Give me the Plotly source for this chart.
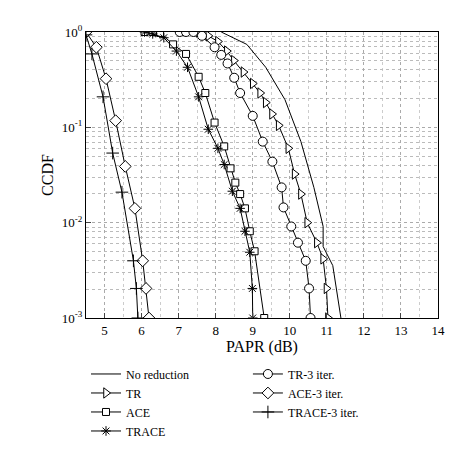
import plotly.graph_objects as go

nr_x = [8.15, 8.84, 9.35, 9.87, 10.3, 10.65, 10.9, 10.9, 11.16, 11.38]
nr_y = [0, -0.13, -0.37, -0.71, -1.15, -1.63, -2.04, -2.25, -2.45, -3]
tr_x = [7.54, 7.8, 8.06, 8.3, 8.49, 8.75, 9.0, 9.2, 9.35, 9.52, 9.7, 9.96, 10.13, 10.3, 10.47, 10.73, 10.9, 10.99, 11.03]
tr_y = [0, -0.04, -0.1, -0.2, -0.3, -0.42, -0.54, -0.64, -0.74, -0.86, -0.98, -1.22, -1.49, -1.7, -2.0, -2.21, -2.38, -2.69, -3]
tr3_x = [7.03, 7.2, 7.4, 7.63, 7.97, 8.15, 8.32, 8.5, 8.66, 9.0, 9.27, 9.53, 9.78, 9.83, 10.04, 10.22, 10.43, 10.52, 10.56]
tr3_y = [0, 0, 0, -0.04, -0.16, -0.24, -0.33, -0.48, -0.64, -0.88, -1.15, -1.36, -1.63, -1.84, -2.04, -2.21, -2.4, -2.69, -3]
ace_x = [6.08, 6.3, 6.5, 6.85, 7.2, 7.54, 7.72, 7.97, 8.23, 8.4, 8.53, 8.66, 8.79, 8.92, 9.05, 9.31]
ace_y = [0, 0, -0.01, -0.13, -0.23, -0.47, -0.64, -0.95, -1.2, -1.43, -1.58, -1.7, -1.85, -2.09, -2.3, -3]
trace_x = [6.08, 6.3, 6.6, 6.94, 7.24, 7.54, 7.8, 8.06, 8.23, 8.45, 8.66, 8.79, 8.92, 8.99, 9.0]
trace_y = [0, -0.02, -0.06, -0.2, -0.37, -0.68, -1.02, -1.22, -1.39, -1.67, -1.85, -2.09, -2.31, -2.69, -3]
ace3_x = [4.5, 4.78, 5.04, 5.3, 5.56, 5.82, 6.03, 6.12, 6.2]
ace3_y = [0, -0.16, -0.49, -0.93, -1.41, -1.85, -2.4, -2.69, -3]
trace3_x = [4.5, 4.66, 4.96, 5.22, 5.47, 5.78, 5.86, 5.9]
trace3_y = [-0.03, -0.23, -0.68, -1.27, -1.68, -2.4, -2.69, -3]

def p(v):
    return [10 ** a for a in v]

fig = go.Figure()
def add(name, x, y, sym, leg, size=9):
    mode = 'lines' if sym is None else 'lines+markers'
    fig.add_trace(go.Scatter(x=x, y=p(y), name=name, mode=mode, legend=leg,
        line=dict(color='black', width=1),
        marker=dict(symbol=sym or 'circle', size=size, color='white',
                    line=dict(color='black', width=1))))

add('No reduction', nr_x, nr_y, None, 'legend')
add('TR', tr_x, tr_y, 'triangle-right', 'legend')
add('ACE', ace_x, ace_y, 'square', 'legend', 7)
add('TRACE', trace_x, trace_y, 'asterisk', 'legend', 8)
add('TR-3 iter.', tr3_x, tr3_y, 'circle', 'legend2')
add('ACE-3 iter.', ace3_x, ace3_y, 'diamond', 'legend2')
add('TRACE-3 iter.', trace3_x, trace3_y, 'cross-thin', 'legend2')

minor_vals = [m * 10 ** e for e in (-3, -2, -1) for m in range(2, 10)]
legstyle = dict(orientation='v', yanchor='top', xanchor='left', tracegroupgap=0,
                font=dict(size=12), bgcolor='rgba(0,0,0,0)', itemwidth=30)
fig.update_layout(
    width=474, height=468, plot_bgcolor='white', paper_bgcolor='white',
    margin=dict(l=78, r=44, t=24, b=158),
    font=dict(family='Liberation Serif', size=13, color='black'),
    showlegend=True,
    legend=dict(x=0.0, y=-0.145, **legstyle),
    legend2=dict(x=0.46, y=-0.145, **legstyle),
    xaxis=dict(range=[4.5, 14], dtick=1, tick0=4, showline=True, mirror=True,
               linecolor='black', ticks='inside', gridcolor='#aaa', griddash='dot',
               minor=dict(dtick=0.5, showgrid=True, gridcolor='#ccc', griddash='dot'),
               title=dict(text='PAPR (dB)', standoff=4), zeroline=False),
    yaxis=dict(type='log', range=[-3, 0], showline=True, mirror=True, linecolor='black',
               ticks='inside', tickvals=[1, 0.1, 0.01, 0.001],
               ticktext=['10<sup>0</sup>', '10<sup>-1</sup>', '10<sup>-2</sup>', '10<sup>-3</sup>'],
               gridcolor='#aaa', griddash='dot',
               minor=dict(tickvals=minor_vals, showgrid=True, gridcolor='#bbb', griddash='dot'),
               title=dict(text='CCDF', standoff=4)),
)
fig.write_html('out.html')
